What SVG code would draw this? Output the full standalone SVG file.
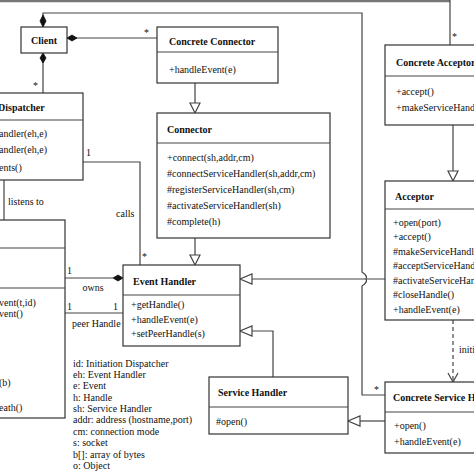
<svg xmlns="http://www.w3.org/2000/svg" width="474" height="474" viewBox="0 0 474 474">
<defs>
<style>
.box{fill:#fff;stroke:#333;stroke-width:1.2}
.ln{fill:none;stroke:#444;stroke-width:1.2}
.t{font-family:"Liberation Serif","Times New Roman",serif;font-size:10px;fill:#111}
.b{font-weight:bold}
.tri{fill:#fff;stroke:#444;stroke-width:1.2}
.dia{fill:#111;stroke:#111;stroke-width:0.8}
</style>
</defs>
<rect width="474" height="474" fill="#fff"/>
<g id="connectors">
<line x1="0" y1="1" x2="450" y2="1" stroke="#777" stroke-width="2.5"/>
<line class="ln" x1="450" y1="0" x2="450" y2="45"/>
<text class="t" x="452" y="40">*</text>
<path class="ln" d="M43,27 V13 H362 V272 Q368,276 366,279 Q368,282 362,286 V395 H385"/>
<text class="t" x="374" y="393">*</text>
<polygon class="dia" points="43,15 46,21 43,27 40,21"/>
<line class="ln" x1="67" y1="38" x2="157" y2="38"/>
<polygon class="dia" points="67,38 72,35 77,38 72,41"/>
<text class="t" x="144" y="36">*</text>
<line class="ln" x1="43" y1="53" x2="43" y2="93"/>
<polygon class="dia" points="43,53 46,58 43,63 40,58"/>
<text class="t" x="33" y="89">*</text>
<line class="ln" x1="195" y1="83" x2="195" y2="103"/>
<polygon class="tri" points="190,103 200,103 195,113"/>
<line class="ln" x1="195" y1="238" x2="195" y2="255"/>
<polygon class="tri" points="190,255 200,255 195,265"/>
<line class="ln" x1="453" y1="125" x2="453" y2="171"/>
<polygon class="tri" points="448,171 458,171 453,181"/>
<line class="ln" x1="385" y1="279" x2="252" y2="279"/>
<polygon class="tri" points="252,274 252,284 240,279"/>
<path class="ln" d="M273,377 V331 H252"/>
<polygon class="tri" points="252,326 252,336 240,331"/>
<line class="ln" x1="385" y1="421" x2="360" y2="421"/>
<polygon class="tri" points="360,416 360,426 348,421"/>
<line class="ln" x1="453" y1="320" x2="453" y2="381" stroke-dasharray="4,3"/>
<polyline class="ln" points="448,373 453,382 458,373"/>
<text class="t" x="459" y="353">initi</text>
<path class="ln" d="M83,162 H140 V265"/>
<text class="t" x="86" y="156">1</text>
<text class="t" x="116" y="217">calls</text>
<text class="t" x="142" y="260">*</text>
<line class="ln" x1="4" y1="180" x2="4" y2="220"/>
<text class="t" x="8" y="205">listens to</text>
<line class="ln" x1="65" y1="278" x2="113" y2="278"/>
<polygon class="dia" points="123,278 118,275 113,278 118,281"/>
<text class="t" x="67" y="274">1</text>
<text class="t" x="93" y="291" text-anchor="middle">owns</text>
<line class="ln" x1="65" y1="313" x2="123" y2="313"/>
<text class="t" x="67" y="310">1</text>
<text class="t" x="113" y="310">1</text>
<text class="t" x="72" y="327">peer Handle</text>
</g>
<g id="client">
<rect class="box" x="21" y="27" width="46" height="26"/>
<text class="t b" x="44" y="44" text-anchor="middle">Client</text>
</g>
<g id="concrete-connector">
<rect class="box" x="157" y="27" width="121" height="56"/>
<line class="ln" x1="157" y1="52" x2="278" y2="52"/>
<text class="t b" x="169" y="45">Concrete Connector</text>
<text class="t" x="169" y="73">+handleEvent(e)</text>
</g>
<g id="connector">
<rect class="box" x="157" y="113" width="173" height="125"/>
<line class="ln" x1="157" y1="143" x2="330" y2="143"/>
<text class="t b" x="167" y="133">Connector</text>
<text class="t" x="167" y="161">+connect(sh,addr,cm)</text>
<text class="t" x="167" y="177">#connectServiceHandler(sh,addr,cm)</text>
<text class="t" x="167" y="193">#registerServiceHandler(sh,cm)</text>
<text class="t" x="167" y="209">#activateServiceHandler(sh)</text>
<text class="t" x="167" y="225">#complete(h)</text>
</g>
<g id="concrete-acceptor">
<rect class="box" x="385" y="45" width="100" height="80"/>
<line class="ln" x1="385" y1="76" x2="485" y2="76"/>
<text class="t b" x="396" y="66">Concrete Acceptor</text>
<text class="t" x="396" y="95">+accept()</text>
<text class="t" x="396" y="111">+makeServiceHandl</text>
</g>
<g id="acceptor">
<rect class="box" x="385" y="181" width="100" height="139"/>
<line class="ln" x1="385" y1="209" x2="485" y2="209"/>
<text class="t b" x="395" y="200">Acceptor</text>
<text class="t" x="393" y="226">+open(port)</text>
<text class="t" x="393" y="240">+accept()</text>
<text class="t" x="393" y="255">#makeServiceHandl</text>
<text class="t" x="393" y="269">#acceptServiceHand</text>
<text class="t" x="393" y="284">#activateServiceHan</text>
<text class="t" x="393" y="298">#closeHandle()</text>
<text class="t" x="393" y="313">+handleEvent(e)</text>
</g>
<g id="dispatcher">
<rect class="box" x="-10" y="93" width="93" height="87"/>
<line class="ln" x1="-10" y1="120" x2="83" y2="120"/>
<text class="t b" x="-2" y="111">Dispatcher</text>
<text class="t" x="-1" y="137">andler(eh,e)</text>
<text class="t" x="-1" y="153">andler(eh,e)</text>
<text class="t" x="-1" y="171">ents()</text>
</g>
<g id="demultiplexer">
<rect class="box" x="-10" y="220" width="75" height="198"/>
<line class="ln" x1="-10" y1="248" x2="65" y2="248"/>
<line class="ln" x1="-10" y1="288" x2="65" y2="288"/>
<text class="t" x="-1" y="306">vent(t,id)</text>
<text class="t" x="-1" y="317">vent()</text>
<text class="t" x="-1" y="386">(b)</text>
<text class="t" x="-1" y="411">eath()</text>
</g>
<g id="event-handler">
<rect class="box" x="123" y="265" width="117" height="81"/>
<line class="ln" x1="123" y1="295" x2="240" y2="295"/>
<text class="t b" x="133" y="285">Event Handler</text>
<text class="t" x="131" y="308">+getHandle()</text>
<text class="t" x="131" y="323">+handleEvent(e)</text>
<text class="t" x="131" y="337">+setPeerHandle(s)</text>
</g>
<g id="service-handler">
<rect class="box" x="209" y="377" width="139" height="57"/>
<line class="ln" x1="209" y1="407" x2="348" y2="407"/>
<text class="t b" x="218" y="396">Service Handler</text>
<text class="t" x="216" y="425">#open()</text>
</g>
<g id="concrete-service-handler">
<rect class="box" x="385" y="382" width="100" height="71"/>
<line class="ln" x1="385" y1="412" x2="485" y2="412"/>
<text class="t b" x="393" y="401">Concrete Service H</text>
<text class="t" x="394" y="429">+open()</text>
<text class="t" x="394" y="445">+handleEvent(e)</text>
</g>
<g id="legend">
<text class="t" x="73" y="367">id: Initiation Dispatcher</text>
<text class="t" x="73" y="378">eh: Event Handler</text>
<text class="t" x="73" y="389">e: Event</text>
<text class="t" x="73" y="401">h: Handle</text>
<text class="t" x="73" y="412">sh: Service Handler</text>
<text class="t" x="73" y="423">addr: address (hostname,port)</text>
<text class="t" x="73" y="435">cm: connection mode</text>
<text class="t" x="73" y="446">s: socket</text>
<text class="t" x="73" y="458">b[]: array of bytes</text>
<text class="t" x="73" y="469">o: Object</text>
</g>
</svg>
